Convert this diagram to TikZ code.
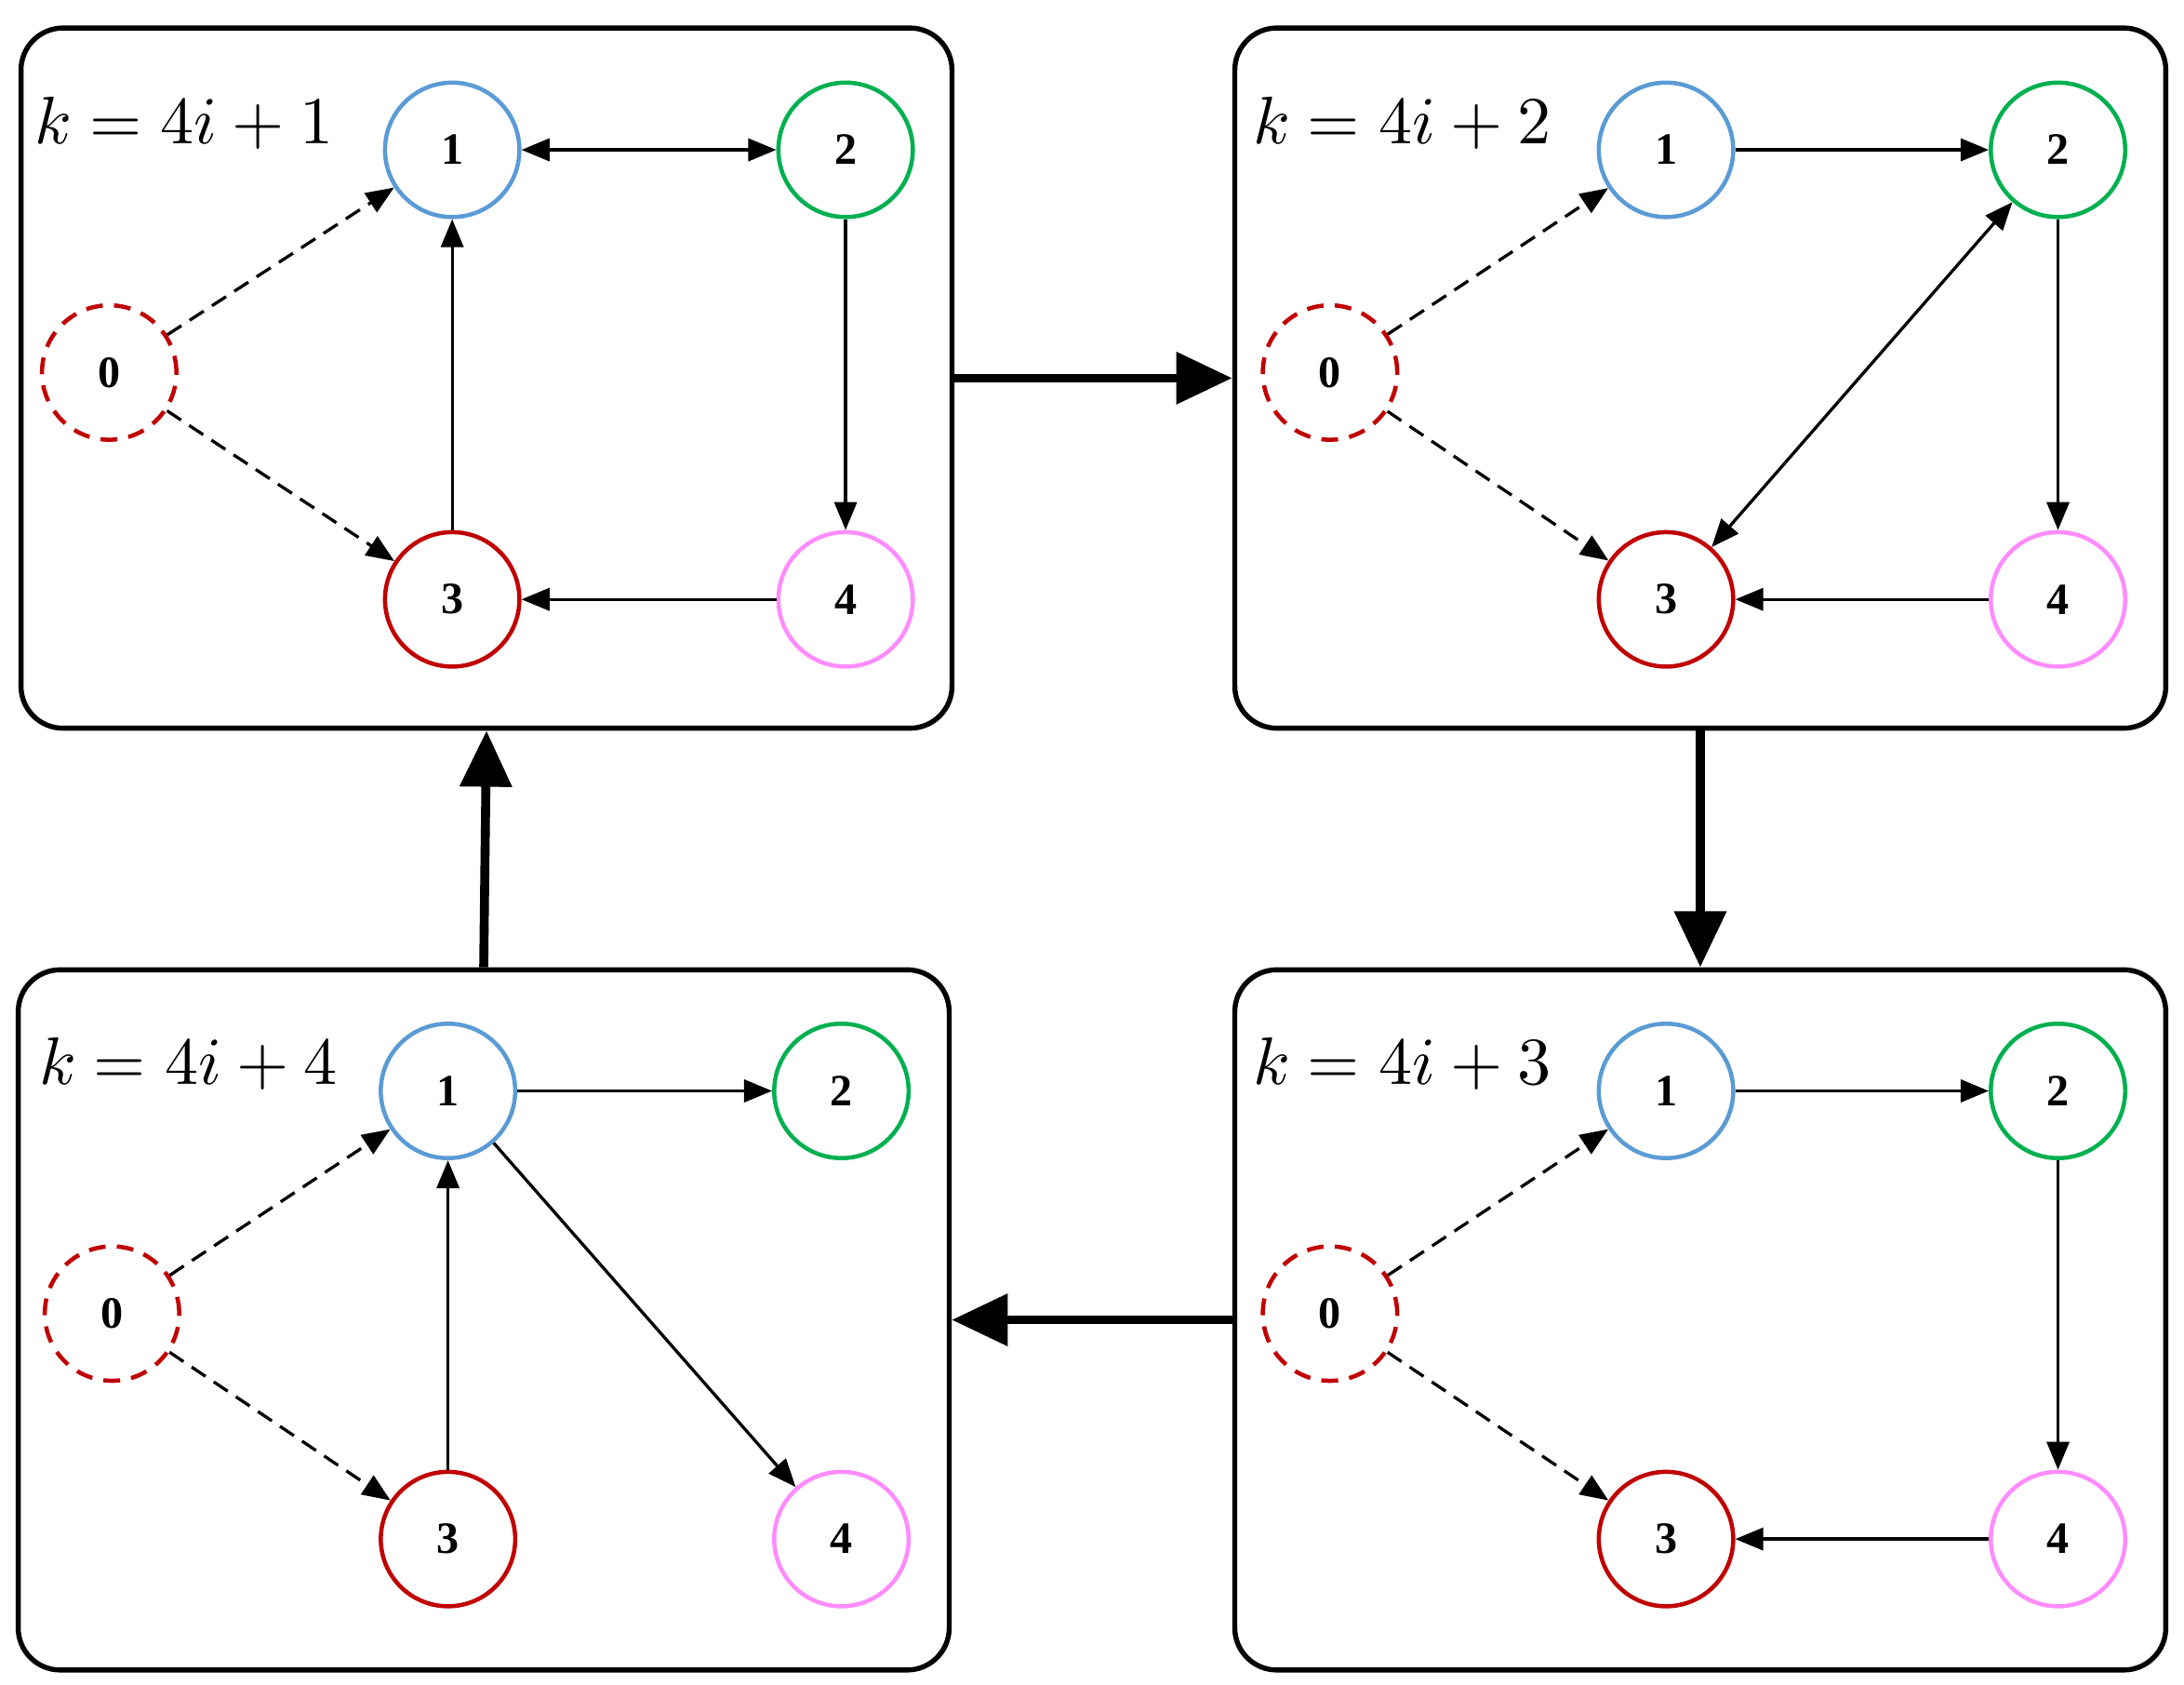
\documentclass[tikz,border=0pt]{standalone}
\usepackage{fontspec}
\setmainfont{Liberation Serif}
\usepackage{unicode-math}
\setmathfont{Latin Modern Math}
\usetikzlibrary{arrows.meta}
\definecolor{cblue}{RGB}{91,155,213}
\definecolor{cgreen}{RGB}{0,176,80}
\definecolor{cred}{RGB}{192,0,0}
\definecolor{cpink}{RGB}{255,140,255}
\begin{document}
\begin{tikzpicture}[x=0.5pt,y=-0.5pt,
  box/.style={draw,line width=1.8pt,rounded corners=15pt,minimum width=332.5pt,minimum height=250pt},
  vx/.style={circle,draw,line width=1.5pt,minimum size=48pt,inner sep=0pt,font=\fontsize{16}{16}\selectfont\bfseries},
  e/.style={-{Triangle[length=10pt,width=8pt]},line width=1.1pt},
  ee/.style={{Triangle[length=10pt,width=8pt]}-{Triangle[length=10pt,width=8pt]},line width=1.1pt},
  d/.style={e,dash pattern=on 6pt off 3.5pt},
  big/.style={-{Triangle[length=20pt,width=18pt]},line width=3.2pt},
  lab/.style={anchor=west,font=\fontsize{24}{24}\selectfont}]
\useasboundingbox (0,0) rectangle (1560,1203);
% boxes
\node[box] (tl) at (347.5,270) {};
\node[box] (tr) at (1214.5,270) {};
\node[box] (bl) at (345.5,942.5) {};
\node[box] (br) at (1214.5,942.5) {};
% labels
\node[lab] (ltl) at (18,88) {$k=4i+1$};
\node[lab] (ltr) at (888,88) {$k=4i+2$};
\node[lab] (lbl) at (21,760) {$k=4i+4$};
\node[lab] (lbr) at (888,760) {$k=4i+3$};
% top left
\node[vx,draw=cblue] (a1) at (323,107) {1};
\node[vx,draw=cgreen] (a2) at (604,107) {2};
\node[vx,draw=cred,dash pattern=on 6pt off 4pt] (a0) at (78,266) {0};
\node[vx,draw=cred] (a3) at (323,428) {3};
\node[vx,draw=cpink] (a4) at (604,428) {4};
\draw[d] (a0) -- (a1); \draw[d] (a0) -- (a3);
\draw[ee] (a1) -- (a2); \draw[e] (a3) -- (a1);
\draw[e] (a2) -- (a4); \draw[e] (a4) -- (a3);
% top right
\node[vx,draw=cblue] (b1) at (1190,107) {1};
\node[vx,draw=cgreen] (b2) at (1470,107) {2};
\node[vx,draw=cred,dash pattern=on 6pt off 4pt] (b0) at (950,266) {0};
\node[vx,draw=cred] (b3) at (1190,428) {3};
\node[vx,draw=cpink] (b4) at (1470,428) {4};
\draw[d] (b0) -- (b1); \draw[d] (b0) -- (b3);
\draw[e] (b1) -- (b2); \draw[ee] (b2) -- (b3);
\draw[e] (b2) -- (b4); \draw[e] (b4) -- (b3);
% bottom right
\node[vx,draw=cblue] (c1) at (1190,779) {1};
\node[vx,draw=cgreen] (c2) at (1470,779) {2};
\node[vx,draw=cred,dash pattern=on 6pt off 4pt] (c0) at (950,938) {0};
\node[vx,draw=cred] (c3) at (1190,1099) {3};
\node[vx,draw=cpink] (c4) at (1470,1099) {4};
\draw[d] (c0) -- (c1); \draw[d] (c0) -- (c3);
\draw[e] (c1) -- (c2); \draw[e] (c2) -- (c4); \draw[e] (c4) -- (c3);
% bottom left
\node[vx,draw=cblue] (d1) at (320,779) {1};
\node[vx,draw=cgreen] (d2) at (601,779) {2};
\node[vx,draw=cred,dash pattern=on 6pt off 4pt] (d0) at (80,938) {0};
\node[vx,draw=cred] (d3) at (320,1099) {3};
\node[vx,draw=cpink] (d4) at (601,1099) {4};
\draw[d] (d0) -- (d1); \draw[d] (d0) -- (d3);
\draw[e] (d1) -- (d2); \draw[e] (d3) -- (d1); \draw[e] (d1) -- (d4);
% cycle arrows
\draw[big] (tl.east) -- (tr.west);
\draw[big] (tr.south) -- (br.north);
\draw[big] (br.west) -- (bl.east);
\draw[big] (bl.north) -- (tl.south);
\end{tikzpicture}
\end{document}
